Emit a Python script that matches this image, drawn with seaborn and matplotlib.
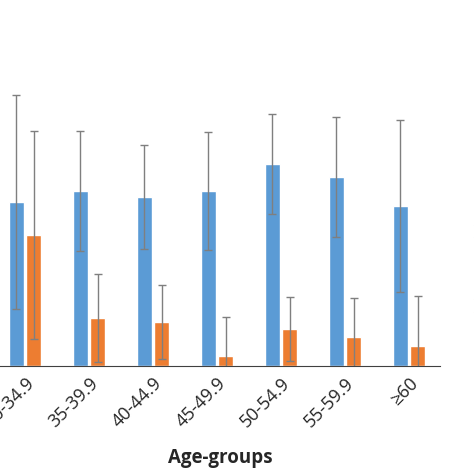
import matplotlib
matplotlib.use("Agg")
import matplotlib.pyplot as plt
import seaborn as sns
import pandas as pd
import numpy as np

groups = ["30-34.9", "35-39.9", "40-44.9", "45-49.9", "50-54.9", "55-59.9", "≥60"]
series = ["Male", "Female"]
blue_vals = [164, 175, 169, 175, 202, 189, 160]
blue_err = [107, 60, 52, 59, 50, 60, 86]
orange_vals = [131, 48, 44, 10, 37, 29, 20]
orange_err = [104, 44, 37, 39, 32, 39, 50]

df = pd.DataFrame({
    "group": groups * 2,
    "series": [series[0]] * 7 + [series[1]] * 7,
    "value": blue_vals + orange_vals,
})

sns.set_style("white")
plt.rcParams['font.family'] = ['Open Sans', 'DejaVu Sans']
fig = plt.figure(figsize=(4.74, 4.74), dpi=100)
ax = fig.add_axes([0, 1 - 366/474, 440/474, 326/474])
colors = ["#5B9BD5", "#ED7D31"]
sns.barplot(data=df, x="group", y="value", hue="series", palette=colors,
            width=0.55, gap=0.15, ax=ax, errorbar=None, saturation=1)
errs = blue_err + orange_err
vals = blue_vals + orange_vals
bars = [p for p in ax.patches if p.get_height() > 0][:14]
for p, v, e in zip(bars, vals, errs):
    ax.errorbar(p.get_x() + p.get_width() / 2, v, yerr=e, color="#7f7f7f",
                capsize=3, lw=1, capthick=1)
ax.set_xlim(-25/64, 415/64)
ax.set_ylim(0, 326)
for s in ["top", "right", "left"]:
    ax.spines[s].set_visible(False)
ax.spines["bottom"].set_color("#404040")
ax.set_yticks([])
ax.set_ylabel("")
ax.tick_params(axis="x", length=0, pad=6)
plt.setp(ax.get_xticklabels(), rotation=45, ha="right", rotation_mode="anchor", fontsize=13)
ax.set_xlabel("Age-groups", fontsize=13.5, fontweight="bold", labelpad=12)
ax.legend(loc="upper left", bbox_to_anchor=(458/440, 0.48), frameon=False,
          handlelength=0.8, handleheight=0.8, labelspacing=3.5, fontsize=12)
fig.savefig("out.png", dpi=100)
